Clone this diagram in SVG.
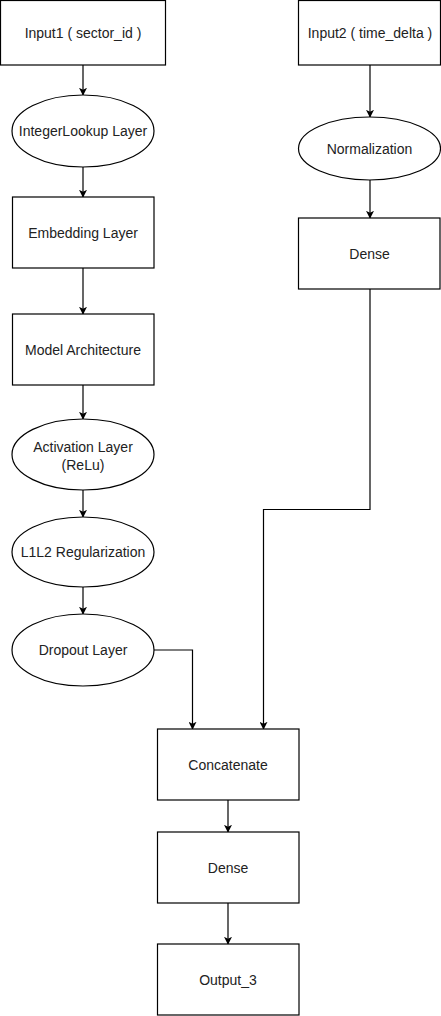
<svg xmlns="http://www.w3.org/2000/svg" width="441" height="1016" viewBox="0 0 441 1016">
<style>
.n{fill:#fff;stroke:#000;stroke-width:1.2}
.t{font-family:"Liberation Sans",Arial,sans-serif;font-size:14px;fill:#222;text-anchor:middle;dominant-baseline:central}
.c{fill:none;stroke:#000;stroke-width:1.2}
</style>
<defs>
<marker id="a" viewBox="0 0 10 10" refX="9" refY="5" markerWidth="8" markerHeight="8" markerUnits="userSpaceOnUse" orient="auto">
<path d="M0,0 L10,5 L0,10 L2.5,5 Z" fill="#000"/>
</marker>
</defs>
<rect width="441" height="1016" fill="#fff"/>
<g id="connectors">
<path class="c" d="M83,65 V95" marker-end="url(#a)"/>
<path class="c" d="M83,167 V197" marker-end="url(#a)"/>
<path class="c" d="M83,268 V314" marker-end="url(#a)"/>
<path class="c" d="M83,385 V419" marker-end="url(#a)"/>
<path class="c" d="M83,490 V517" marker-end="url(#a)"/>
<path class="c" d="M83,587 V614" marker-end="url(#a)"/>
<path class="c" d="M154,650 H192.5 V729" marker-end="url(#a)"/>
<path class="c" d="M370,65 V117" marker-end="url(#a)"/>
<path class="c" d="M370,180 V218" marker-end="url(#a)"/>
<path class="c" d="M370,289 V509.5 H263.5 V729" marker-end="url(#a)"/>
<path class="c" d="M228,800 V832" marker-end="url(#a)"/>
<path class="c" d="M228,903 V944" marker-end="url(#a)"/>
</g>
<g id="input1"><rect class="n" x="0.5" y="0.5" width="165" height="64.5"/><text class="t" x="83" y="33">Input1 ( sector_id )</text></g>
<g id="integerlookup"><ellipse class="n" cx="83" cy="131" rx="71" ry="36"/><text class="t" x="83" y="131">IntegerLookup Layer</text></g>
<g id="embedding"><rect class="n" x="12.5" y="197" width="141.5" height="71"/><text class="t" x="83" y="232.5">Embedding Layer</text></g>
<g id="model"><rect class="n" x="12.5" y="314" width="141.5" height="71"/><text class="t" x="83" y="349.5">Model Architecture</text></g>
<g id="activation"><ellipse class="n" cx="83" cy="454.5" rx="71" ry="35.5"/><text class="t" x="83" y="446.5">Activation Layer</text><text class="t" x="83" y="465">(ReLu)</text></g>
<g id="l1l2"><ellipse class="n" cx="83" cy="552" rx="71" ry="35"/><text class="t" x="83" y="552">L1L2 Regularization</text></g>
<g id="dropout"><ellipse class="n" cx="83" cy="650" rx="71" ry="36"/><text class="t" x="83" y="650">Dropout Layer</text></g>
<g id="input2"><rect class="n" x="298.5" y="0.5" width="142" height="64.5"/><text class="t" x="370" y="33">Input2 ( time_delta )</text></g>
<g id="normalization"><ellipse class="n" cx="369.5" cy="148.5" rx="71" ry="31.5"/><text class="t" x="369.5" y="148.5">Normalization</text></g>
<g id="dense1"><rect class="n" x="298.5" y="218" width="141.5" height="71"/><text class="t" x="369.5" y="253.5">Dense</text></g>
<g id="concatenate"><rect class="n" x="157.5" y="729" width="141.5" height="71"/><text class="t" x="228" y="764.5">Concatenate</text></g>
<g id="dense2"><rect class="n" x="157.5" y="832" width="141.5" height="71"/><text class="t" x="228" y="867.5">Dense</text></g>
<g id="output3"><rect class="n" x="157.5" y="944" width="141.5" height="71"/><text class="t" x="228" y="979.5">Output_3</text></g>
</svg>
